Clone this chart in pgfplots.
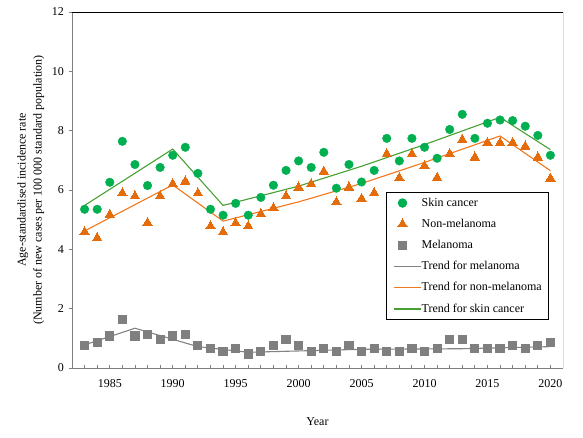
\documentclass[border=0pt]{standalone}
\usepackage{fontspec}
\setmainfont{Liberation Serif}
\usepackage{pgfplots}
\pgfplotsset{compat=1.18}
\definecolor{skin}{RGB}{0,176,80}
\definecolor{nonmel}{RGB}{228,108,10}
\definecolor{mel}{RGB}{127,127,127}
\definecolor{tskin}{RGB}{70,160,50}
\definecolor{tnon}{RGB}{240,120,30}
\definecolor{tmel}{RGB}{130,130,130}
\begin{document}
\fontsize{12}{14}\selectfont
\begin{tikzpicture}
\path[use as bounding box] (0,0) rectangle (583pt,438pt);
\begin{axis}[
  at={(72pt,70pt)}, anchor=south west,
  scale only axis, width=491pt, height=356pt,
  xmin=1982, xmax=2021, ymin=0, ymax=12,
  axis x line*=bottom, axis y line*=left,
  axis line style={color=mel, line width=0.8pt},
  xtick={1985,1990,...,2020},
  minor xtick={1983,1984,...,2020},
  ytick={0,2,...,12},
  xtick align=inside, ytick align=outside,
  major tick length=3pt, minor tick length=3pt,
  every tick/.style={color=mel, line width=0.8pt},
  tick label style={font=\fontsize{12}{14}\selectfont},
  /pgf/number format/assume math mode=true,
  xticklabel style={/pgf/number format/1000 sep={}, yshift=-7pt},
  yticklabel style={xshift=-1pt},
  xlabel={Year},
  xlabel style={at={(axis description cs:0.5,-0.15)}, anchor=center, font=\fontsize{12}{14}\selectfont},
  ylabel={Age-standardised incidence rate\\(Number of new cases per 100 000 standard population)},
  ylabel style={at={(axis description cs:-0.084,0.5)}, anchor=center, align=center, font=\fontsize{12}{16}\selectfont},
  legend style={at={(0.6395,0.494)}, anchor=north west, draw=black, line width=0.8pt,
    font=\fontsize{12}{14}\selectfont, inner xsep=7pt, inner ysep=4.5pt,
    row sep=9.2pt,
    nodes={inner sep=0pt, text height=9pt, text depth=3pt},
    /tikz/every even column/.append style={column sep=2pt}},
  legend cell align=left,
]
\addplot[only marks, mark=*, mark size=4.3pt, color=skin, mark options={fill=skin, draw=skin}] coordinates {
(1983,5.35) (1984,5.35) (1985,6.26) (1986,7.64) (1987,6.86) (1988,6.15) (1989,6.76) (1990,7.17)
(1991,7.44) (1992,6.56) (1993,5.35) (1994,5.15) (1995,5.55) (1996,5.15) (1997,5.75) (1998,6.16)
(1999,6.66) (2000,6.98) (2001,6.76) (2002,7.27) (2003,6.06) (2004,6.86) (2005,6.27) (2006,6.66)
(2007,7.74) (2008,6.98) (2009,7.74) (2010,7.44) (2011,7.07) (2012,8.04) (2013,8.55) (2014,7.74)
(2015,8.25) (2016,8.36) (2017,8.34) (2018,8.15) (2019,7.84) (2020,7.17)};
\addlegendentry{Skin cancer}
\addplot[only marks, mark=triangle*, mark size=5.4pt, color=nonmel, mark options={fill=nonmel, draw=nonmel, line width=0pt}] coordinates {
(1983,4.58) (1984,4.38) (1985,5.17) (1986,5.89) (1987,5.79) (1988,4.89) (1989,5.79) (1990,6.20)
(1991,6.29) (1992,5.89) (1993,4.78) (1994,4.58) (1995,4.88) (1996,4.78) (1997,5.19) (1998,5.39)
(1999,5.79) (2000,6.09) (2001,6.20) (2002,6.62) (2003,5.59) (2004,6.09) (2005,5.70) (2006,5.90)
(2007,7.21) (2008,6.41) (2009,7.21) (2010,6.81) (2011,6.41) (2012,7.21) (2013,7.69) (2014,7.10)
(2015,7.59) (2016,7.59) (2017,7.59) (2018,7.47) (2019,7.10) (2020,6.39)};
\addlegendentry{Non-melanoma}
\addplot[only marks, mark=square*, mark size=4.1pt, color=mel, mark options={fill=mel, draw=mel, line width=0pt}] coordinates {
(1983,0.75) (1984,0.85) (1985,1.08) (1986,1.64) (1987,1.08) (1988,1.13) (1989,0.97) (1990,1.08)
(1991,1.13) (1992,0.76) (1993,0.65) (1994,0.56) (1995,0.65) (1996,0.47) (1997,0.56) (1998,0.76)
(1999,0.97) (2000,0.76) (2001,0.56) (2002,0.65) (2003,0.56) (2004,0.76) (2005,0.56) (2006,0.65)
(2007,0.56) (2008,0.56) (2009,0.65) (2010,0.56) (2011,0.65) (2012,0.97) (2013,0.97) (2014,0.65)
(2015,0.65) (2016,0.65) (2017,0.76) (2018,0.65) (2019,0.76) (2020,0.85)};
\addlegendentry{Melanoma}
\addplot[color=tmel, line width=1.1pt, mark=none, legend image code/.code={\draw[tmel, line width=1.2pt] (0pt,0pt) -- (27pt,0pt);}] coordinates {
(1983,0.78) (1987,1.34) (1992,0.72) (1996,0.53) (2005,0.63) (2013,0.65) (2020,0.72)};
\addlegendentry{Trend for melanoma}
\addplot[color=tnon, line width=1.1pt, mark=none, legend image code/.code={\draw[tnon, line width=1.2pt] (0pt,0pt) -- (27pt,0pt);}] coordinates {
(1983,4.62) (1990,6.17) (1994,4.95) (2000,5.60) (2005,6.22) (2010,6.93) (2016,7.82) (2020,6.65)};
\addlegendentry{Trend for non-melanoma}
\addplot[color=tskin, line width=1.1pt, mark=none, legend image code/.code={\draw[tskin, line width=1.2pt] (0pt,0pt) -- (27pt,0pt);}] coordinates {
(1983,5.48) (1990,7.38) (1994,5.48) (2000,6.13) (2005,6.80) (2010,7.53) (2016,8.45) (2020,7.36)};
\addlegendentry{Trend for skin cancer}
\draw[black, line width=0.8pt] (rel axis cs:0,1) -- (rel axis cs:1,1) -- (rel axis cs:1,0);
\end{axis}
\end{tikzpicture}
\end{document}
